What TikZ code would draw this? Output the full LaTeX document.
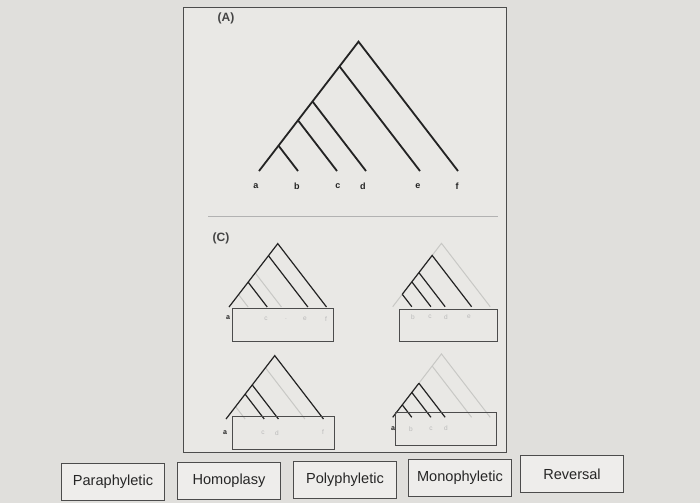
\documentclass[tikz,border=0pt]{standalone}
\usepackage{fontspec}
\setmainfont{Liberation Sans}
\usepackage{tikz}
\usetikzlibrary{positioning}
\definecolor{paper}{RGB}{224,223,220}
\definecolor{sheet}{RGB}{233,232,229}
\definecolor{ink}{RGB}{35,35,35}
\definecolor{faint}{RGB}{200,200,197}
\definecolor{btnfill}{RGB}{238,237,235}
\newcommand{\cladepts}[1]{%
        \coordinate (#1a) at (0,0);
        \coordinate (#1b) at (39,0);
        \coordinate (#1c) at (78,0);
        \coordinate (#1d) at (107,0);
        \coordinate (#1e) at (161,0);
        \coordinate (#1f) at (199,0);
        \coordinate (#1jb) at (19.5,-25.35);
        \coordinate (#1jc) at (39,-50.7);
        \coordinate (#1jd) at (53.5,-69.55);
        \coordinate (#1je) at (80.5,-104.65);
        \coordinate (#1root) at (99.5,-129.35);}

\begin{document}
\begin{tikzpicture}[x=0.035cm,y=-0.035cm,
        branch/.style={draw=ink,line width=1.8pt},
        twig/.style={draw=ink,line width=1.2pt},
        ghost/.style={draw=faint,line width=1pt},
        leaf/.style={font=\fontsize{9}{10}\selectfont\bfseries,text=ink,inner sep=0pt},
        tinyleaf/.style={font=\fontsize{6.5}{7}\selectfont,text=gray!55,inner sep=0pt},
        dot/.style={font=\fontsize{7}{7}\selectfont\bfseries,text=ink,inner sep=0pt},
        panel/.style={font=\fontsize{12}{13}\selectfont\bfseries,text=ink!85,inner sep=0pt},
        choice/.style={draw=black!70,fill=btnfill,line width=0.8pt,minimum width=3.6cm,minimum height=1.3cm,font=\fontsize{14.5}{16}\selectfont,text=black!85}]
        \useasboundingbox (0,0) rectangle (700,503);
        \fill[paper] (0,0) rectangle (700,503);
        \filldraw[fill=sheet,draw=black!70,line width=0.8pt] (183,7) rectangle (506,452);
        \draw[gray!60,line width=0.8pt] (208,216) -- (498,216);

        \node[panel] (lA) at (226,18) {(A)};
        \begin{scope}[shift={(259,171)}]
                \cladepts{ta-}
        \end{scope}
        \draw[branch] (ta-a) -- (ta-root) -- (ta-f);
        \draw[branch] (ta-jb) -- (ta-b);
        \draw[branch] (ta-jc) -- (ta-c);
        \draw[branch] (ta-jd) -- (ta-d);
        \draw[branch] (ta-je) -- (ta-e);
        \node[leaf] (la) at (256,186) {a};
        \node[leaf] (lb) at (297,186) {b};
        \node[leaf] (lc) at (338,186) {c};
        \node[leaf] (ld) at (363,186) {d};
        \node[leaf] (le) at (418,186) {e};
        \node[leaf] (lf) at (457,186) {f};

        \node[panel] (lC) at (221,238) {(C)};

        \begin{scope}[shift={(229,307)},scale=0.49]
                \cladepts{c1-}
        \end{scope}
        \draw[ghost] (c1-jb) -- (c1-b);
        \draw[ghost] (c1-jd) -- (c1-d);
        \draw[twig] (c1-a) -- (c1-root) -- (c1-f);
        \draw[twig] (c1-jc) -- (c1-c);
        \draw[twig] (c1-je) -- (c1-e);
        \draw[black!70,line width=0.7pt] (232,308) rectangle (333,341);
        \node[dot] (c1la) at (228,318) {a};
        \node[tinyleaf] (c1lc) at (266,319) {c};
        \node[tinyleaf] (c1ld) at (286,319) {.};
        \node[tinyleaf] (c1le) at (305,319) {e};
        \node[tinyleaf] (c1lf) at (326,319) {f};

        \begin{scope}[shift={(392.7,306.7)},scale=0.49]
                \cladepts{c2-}
        \end{scope}
        \draw[ghost] (c2-a) -- (c2-jb);
        \draw[ghost] (c2-je) -- (c2-root) -- (c2-f);
        \draw[twig] (c2-jb) -- (c2-je) -- (c2-e);
        \draw[twig] (c2-jb) -- (c2-b);
        \draw[twig] (c2-jc) -- (c2-c);
        \draw[twig] (c2-jd) -- (c2-d);
        \draw[black!70,line width=0.7pt] (399,309) rectangle (497,341);
        \node[tinyleaf] (c2lb) at (413,317) {b};
        \node[tinyleaf] (c2lc) at (430,317) {c};
        \node[tinyleaf] (c2ld) at (446,317) {d};
        \node[tinyleaf] (c2le) at (469,317) {e};

        \begin{scope}[shift={(226,419)},scale=0.49]
                \cladepts{c3-}
        \end{scope}
        \draw[ghost] (c3-jb) -- (c3-b);
        \draw[ghost] (c3-je) -- (c3-e);
        \draw[twig] (c3-a) -- (c3-root) -- (c3-f);
        \draw[twig] (c3-jc) -- (c3-c);
        \draw[twig] (c3-jd) -- (c3-d);
        \draw[black!70,line width=0.7pt] (232,416) rectangle (334,449);
        \node[dot] (c3la) at (225,433) {a};
        \node[tinyleaf] (c3lc) at (263,433) {c};
        \node[tinyleaf] (c3ld) at (277,433) {d};
        \node[tinyleaf] (c3lf) at (323,432) {f};

        \begin{scope}[shift={(392.7,417.3)},scale=0.49]
                \cladepts{c4-}
        \end{scope}
        \draw[ghost] (c4-jd) -- (c4-root) -- (c4-f);
        \draw[ghost] (c4-je) -- (c4-e);
        \draw[twig] (c4-a) -- (c4-jd);
        \draw[twig] (c4-jb) -- (c4-b);
        \draw[twig] (c4-jc) -- (c4-c);
        \draw[twig] (c4-jd) -- (c4-d);
        \draw[black!70,line width=0.7pt] (395,412) rectangle (496,445);
        \node[dot] (c4la) at (393,429) {a};
        \node[tinyleaf] (c4lb) at (411,429) {b};
        \node[tinyleaf] (c4lc) at (431,429) {c};
        \node[tinyleaf] (c4ld) at (446,428) {d};

        \node[choice] (para) at (113,482) {Paraphyletic};
        \node[choice] (homo) at (229,481) {Homoplasy};
        \node[choice] (poly) at (345,480) {Polyphyletic};
        \node[choice] (mono) at (460,478) {Monophyletic};
        \node[choice] (rev) at (572,474) {Reversal};
      \end{tikzpicture}
\end{document}
